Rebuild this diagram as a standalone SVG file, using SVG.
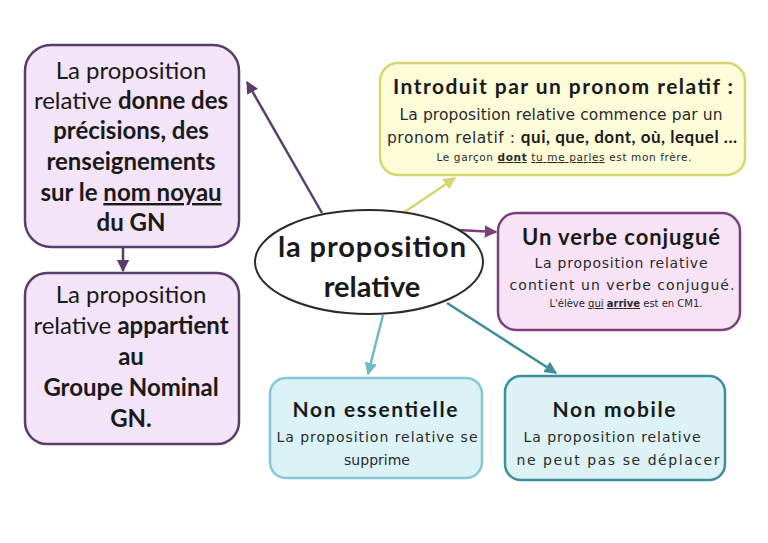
<svg xmlns="http://www.w3.org/2000/svg" width="768" height="543" viewBox="0 0 768 543">
<defs>
<style>
.cal{font-family:Lato,"Open Sans","Liberation Sans",sans-serif;fill:#1a1a1a}
.geo{font-family:"DejaVu Sans","Liberation Sans",sans-serif;fill:#2a2a2a}
.b{font-weight:bold}
.c{text-anchor:middle}
</style>
<marker id="aPurple" viewBox="0 0 10 10" refX="9" refY="5" markerWidth="5" markerHeight="5" orient="auto"><path d="M0,0L10,5L0,10z" fill="#5a3d6b"/></marker>
<marker id="aMag" viewBox="0 0 10 10" refX="9" refY="5" markerWidth="5" markerHeight="5" orient="auto"><path d="M0,0L10,5L0,10z" fill="#7b3f7b"/></marker>
<marker id="aYel" viewBox="0 0 10 10" refX="9" refY="5" markerWidth="5" markerHeight="5" orient="auto"><path d="M0,0L10,5L0,10z" fill="#d6d670"/></marker>
<marker id="aCyan" viewBox="0 0 10 10" refX="9" refY="5" markerWidth="5" markerHeight="5" orient="auto"><path d="M0,0L10,5L0,10z" fill="#6fb8c8"/></marker>
<marker id="aTeal" viewBox="0 0 10 10" refX="9" refY="5" markerWidth="5" markerHeight="5" orient="auto"><path d="M0,0L10,5L0,10z" fill="#3d8e9a"/></marker>
</defs>
<rect width="768" height="543" fill="#ffffff"/>

<g id="connectors" fill="none" stroke-width="2.5">
<line x1="322" y1="213" x2="247" y2="82" stroke="#5a3d6b" marker-end="url(#aPurple)"/>
<line x1="123" y1="247" x2="123" y2="271" stroke="#5a3d6b" marker-end="url(#aPurple)"/>
<line x1="403" y1="213" x2="455" y2="178" stroke="#d6d670" marker-end="url(#aYel)"/>
<line x1="458" y1="230" x2="496" y2="232" stroke="#7b3f7b" marker-end="url(#aMag)"/>
<line x1="383" y1="315" x2="368" y2="374" stroke="#6fb8c8" marker-end="url(#aCyan)"/>
<line x1="447" y1="303" x2="556" y2="373" stroke="#3d8e9a" marker-end="url(#aTeal)"/>
</g>

<g id="center">
<ellipse cx="369" cy="262" rx="114" ry="52" fill="#ffffff" stroke="#2b2b2b" stroke-width="2"/>
<text class="cal b c" x="372" y="257" font-size="29" textLength="188">la proposition</text>
<text class="cal b c" x="372" y="297" font-size="29">relative</text>
</g>

<g id="box-precisions">
<rect x="25" y="45" width="214" height="202" rx="26" fill="#f3e4f8" stroke="#5a3d6b" stroke-width="2.5"/>
<text class="cal c" x="131" y="79" font-size="24">La proposition</text>
<text class="cal c" x="131" y="109" font-size="24">relative <tspan class="b">donne des</tspan></text>
<text class="cal b c" x="131" y="139" font-size="24">précisions, des</text>
<text class="cal b c" x="131" y="170" font-size="24">renseignements</text>
<text class="cal b c" x="131" y="201" font-size="24">sur le <tspan text-decoration="underline">nom noyau</tspan></text>
<text class="cal b c" x="131" y="231" font-size="24">du GN</text>
</g>

<g id="box-appartient">
<rect x="25" y="273" width="214" height="171" rx="22" fill="#f3e4f8" stroke="#5a3d6b" stroke-width="2.5"/>
<text class="cal c" x="131" y="303" font-size="24">La proposition</text>
<text class="cal c" x="131" y="334" font-size="24">relative <tspan class="b">appartient</tspan></text>
<text class="cal b c" x="131" y="365" font-size="24">au</text>
<text class="cal b c" x="131" y="396" font-size="24">Groupe Nominal</text>
<text class="cal b c" x="131" y="427" font-size="24">GN.</text>
</g>

<g id="box-introduit">
<rect x="380" y="63" width="365" height="112" rx="18" fill="#fdfcd9" stroke="#d6d670" stroke-width="2.5"/>
<text class="cal b c" x="563" y="94" font-size="21" textLength="340">Introduit par un pronom relatif :</text>
<text class="geo c" x="561" y="120" font-size="15.5" textLength="323">La proposition relative commence par un</text>
<text class="geo c" x="562" y="143" font-size="15.5" textLength="350">pronom relatif : <tspan class="cal b" font-size="17">qui, que, dont, où, lequel ...</tspan></text>
<text class="geo c" x="564" y="161" font-size="10.5" textLength="255">Le garçon <tspan font-weight="bold" text-decoration="underline">dont</tspan> <tspan text-decoration="underline">tu me parles</tspan> est mon frère.</text>
</g>

<g id="box-verbe">
<rect x="498" y="213" width="242" height="117" rx="18" fill="#f8e3f6" stroke="#7b3f7b" stroke-width="2.5"/>
<text class="cal b c" x="621" y="245" font-size="22" textLength="198">Un verbe conjugué</text>
<text class="geo c" x="621" y="268" font-size="14" textLength="173">La proposition relative</text>
<text class="geo c" x="622" y="290" font-size="14" textLength="225">contient un verbe conjugué.</text>
<text class="geo c" x="626" y="307" font-size="10" textLength="153">L'élève <tspan text-decoration="underline">qui</tspan> <tspan font-weight="bold" text-decoration="underline">arrive</tspan> est en CM1.</text>
</g>

<g id="box-essentielle">
<rect x="270" y="378" width="212" height="100" rx="16" fill="#dbf2f7" stroke="#86c8d8" stroke-width="2.5"/>
<text class="cal b c" x="375" y="417" font-size="21" textLength="165">Non essentielle</text>
<text class="geo c" x="377" y="442" font-size="14" textLength="201">La proposition relative se</text>
<text class="geo c" x="377" y="465" font-size="14">supprime</text>
</g>

<g id="box-mobile">
<rect x="505" y="376" width="220" height="104" rx="16" fill="#ddf2f5" stroke="#3d8e9a" stroke-width="2.5"/>
<text class="cal b c" x="614" y="417" font-size="21" textLength="123">Non mobile</text>
<text class="geo c" x="612" y="442" font-size="14" textLength="177">La proposition relative</text>
<text class="geo c" x="618" y="465" font-size="14" textLength="203">ne peut pas se déplacer</text>
</g>
</svg>
